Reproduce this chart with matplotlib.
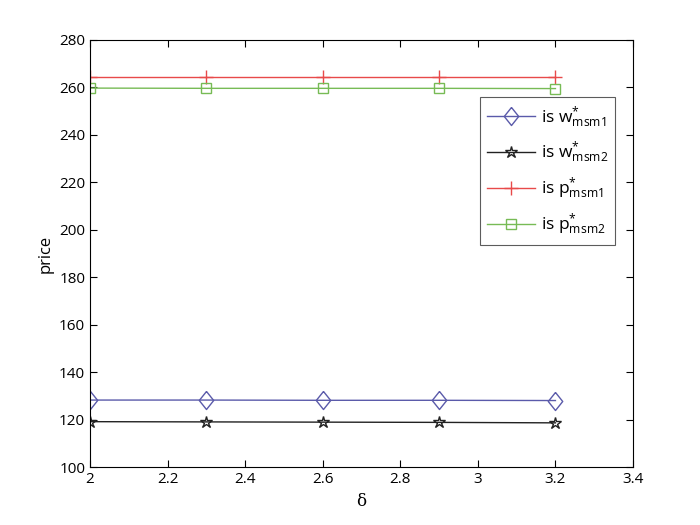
import numpy as np
import matplotlib
matplotlib.use("Agg")
import matplotlib.pyplot as plt

plt.rcParams['font.family'] = ['Open Sans', 'DejaVu Sans']
plt.rcParams['mathtext.fontset'] = 'custom'
plt.rcParams['mathtext.rm'] = 'Open Sans'
plt.rcParams['mathtext.it'] = 'Open Sans'

delta = [2.0, 2.3, 2.6, 2.9, 3.2]
w_msm1 = [128.3, 128.3, 128.2, 128.2, 128.1]
w_msm2 = [119.2, 119.1, 119.0, 118.9, 118.7]
p_msm1 = [264.4, 264.4, 264.4, 264.4, 264.4]
p_msm2 = [259.7, 259.6, 259.6, 259.6, 259.5]

# diamond a little taller than wide, like the original
diamond = [(0, 1), (0.8, 0), (0, -1), (-0.8, 0), (0, 1)]

fig = plt.figure(figsize=(7, 5.25), dpi=100)
ax = fig.add_axes([0.1286, 0.110, 0.7757, 0.814])

ax.plot(delta, w_msm1, color='#5a5aaa', marker=diamond, markersize=13, mfc='none', lw=1,
        label=r'is w$^{*}_{\mathrm{msm1}}$')
ax.plot(delta, w_msm2, color='#222222', marker='*', markersize=9, mfc='none', lw=1,
        label=r'is w$^{*}_{\mathrm{msm2}}$')
ax.plot(delta, p_msm1, color='#e84a4a', marker='+', markersize=10, mfc='none', lw=1,
        label=r'is p$^{*}_{\mathrm{msm1}}$')
ax.plot(delta, p_msm2, color='#77bb55', marker='s', markersize=7, mfc='none', lw=1,
        label=r'is p$^{*}_{\mathrm{msm2}}$')

ax.set_xlim(2, 3.4)
ax.set_ylim(100, 280)
ax.set_xticks(np.arange(2, 3.41, 0.2))
ax.set_xticklabels(['2', '2.2', '2.4', '2.6', '2.8', '3', '3.2', '3.4'])
ax.set_yticks(np.arange(100, 281, 20))
ax.tick_params(direction='in', top=True, right=True, labelsize=11, length=5)
for s in ax.spines.values():
    s.set_linewidth(0.8)
ax.set_xlabel(r'δ', fontsize=12, family=['DejaVu Serif'])
ax.set_ylabel('price', fontsize=12)

leg = ax.legend(loc='upper left', bbox_to_anchor=(0.718, 0.866), fontsize=12.5,
                fancybox=False, edgecolor='#333333', handlelength=2.8,
                handletextpad=0.3, labelspacing=0.55, borderaxespad=0)
leg.get_frame().set_linewidth(0.8)

fig.savefig('out.png', dpi=100)
